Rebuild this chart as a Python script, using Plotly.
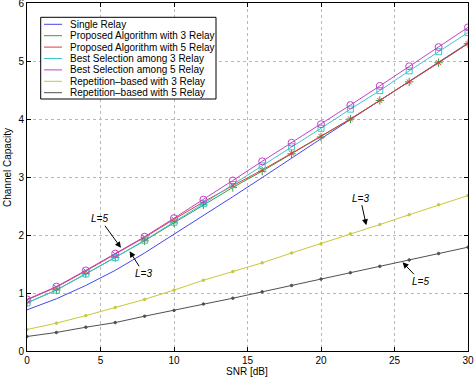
import plotly.graph_objects as go

snr = [0, 2, 4, 6, 8, 10, 12, 14, 16, 18, 20, 22, 24, 26, 28, 30]

single_relay = [0.71, 0.90, 1.13, 1.39, 1.69, 2.01, 2.33, 2.66, 2.99, 3.33, 3.66, 3.99, 4.32, 4.65, 4.98, 5.31]
proposed_3 = [0.83, 1.05, 1.33, 1.61, 1.90, 2.21, 2.52, 2.82, 3.10, 3.40, 3.69, 4.00, 4.32, 4.64, 4.97, 5.30]
proposed_5 = [0.88, 1.10, 1.38, 1.67, 1.96, 2.27, 2.57, 2.85, 3.12, 3.41, 3.70, 4.00, 4.32, 4.64, 4.97, 5.30]
best_3 = [0.83, 1.05, 1.33, 1.61, 1.91, 2.22, 2.54, 2.87, 3.19, 3.52, 3.84, 4.17, 4.49, 4.83, 5.16, 5.49]
best_5 = [0.89, 1.11, 1.39, 1.68, 1.97, 2.29, 2.61, 2.94, 3.27, 3.59, 3.91, 4.24, 4.57, 4.91, 5.24, 5.58]
rep_3 = [0.37, 0.48, 0.61, 0.75, 0.89, 1.05, 1.22, 1.37, 1.52, 1.69, 1.85, 2.02, 2.18, 2.35, 2.52, 2.68]
rep_5 = [0.25, 0.32, 0.41, 0.49, 0.60, 0.70, 0.81, 0.91, 1.02, 1.13, 1.24, 1.35, 1.46, 1.57, 1.68, 1.79]

names = ["Single Relay", "Proposed Algorithm with 3 Relay", "Proposed Algorithm with 5 Relay",
         "Best Selection among 3 Relay", "Best Selection among 5 Relay",
         "Repetition\u2013based with 3 Relay", "Repetition\u2013based with 5 Relay"]
series = [single_relay, proposed_3, proposed_5, best_3, best_5, rep_3, rep_5]
colors = ["#4646ec", "#3a9a46", "#e23a3a", "#3cc6c6", "#c640c6", "#c8c83a", "#505050"]
symbols = [None, "cross-thin-open", "x-thin-open", "square-open", "circle-open", "circle", "circle"]
msizes = [0, 6, 5, 6, 7, 2.5, 2.5]

x_ticks = [0, 5, 10, 15, 20, 25, 30]
y_ticks = [0, 1, 2, 3, 4, 5, 6]

annots = [  # (text, tip x, tip y, ax, ay)
    ("L=5", 6.39, 1.78, -21, -29),
    ("L=3", 6.98, 1.72, 14, 22),
    ("L=3", 23.08, 2.17, -6, -27),
    ("L=5", 25.55, 1.53, 18, 19),
]

fig = go.Figure()
for name, ys, c, sym, ms in zip(names, series, colors, symbols, msizes):
    if sym is None:
        fig.add_trace(go.Scatter(x=snr, y=ys, mode="lines", name=name,
                                 line=dict(color=c, width=1), showlegend=False))
    else:
        fig.add_trace(go.Scatter(x=snr, y=ys, mode="lines+markers", name=name,
                                 line=dict(color=c, width=1),
                                 marker=dict(symbol=sym, size=ms, color=c,
                                             line=dict(color=c, width=1)),
                                 showlegend=False))

# custom compact legend (paper coordinates via overlay axes)
L, R, T, B = 27, 468, 3, 351
W, H = R - L, B - T
def px(xp):
    return (xp - L) / W
def py(yp):
    return (B - yp) / H

box = (40.7, 17.3, 216, 99)
fig.add_shape(type="rect", xref="paper", yref="paper",
              x0=px(box[0]), x1=px(box[2]), y0=py(box[3]), y1=py(box[1]),
              line=dict(color="black", width=1), fillcolor="white", layer="above")
row0, step = 24.3, 11.4
mx, my, msym, mcol, msz = [], [], [], [], []
for i, (name, c, sym, ms) in enumerate(zip(names, colors, symbols, msizes)):
    yy = py(row0 + i * step)
    fig.add_shape(type="line", xref="paper", yref="paper",
                  x0=px(44), x1=px(62), y0=yy, y1=yy,
                  line=dict(color=c, width=1), layer="above")
    fig.add_annotation(xref="paper", yref="paper", x=px(67.5), y=yy, text=name,
                       showarrow=False, xanchor="left", yanchor="middle",
                       font=dict(size=10, color="black"))
    if sym is not None:
        mx.append(px(53)); my.append(yy); msym.append(sym); mcol.append(c); msz.append(ms)

fig.add_trace(go.Scatter(x=mx, y=my, mode="markers", xaxis="x2", yaxis="y2",
                         marker=dict(symbol=msym, size=msz, color=mcol,
                                     line=dict(color=mcol, width=1)),
                         showlegend=False, hoverinfo="skip"))

for text, tx, ty, ax, ay in annots:
    fig.add_annotation(x=tx, y=ty, text="<i>" + text + "</i>", showarrow=True,
                       ax=ax, ay=ay, arrowhead=2, arrowsize=1.2, arrowwidth=1,
                       arrowcolor="black", font=dict(size=10, color="black"))

# axis titles
fig.add_annotation(xref="paper", yref="paper", x=px(247), y=py(371), text="SNR [dB]",
                   showarrow=False, xanchor="center", yanchor="middle",
                   font=dict(size=10, color="black"))
fig.add_annotation(xref="paper", yref="paper", x=px(7), y=py(168), text="Channel Capacity",
                   showarrow=False, textangle=-90, xanchor="center", yanchor="middle",
                   font=dict(size=10, color="black"))

axis_common = dict(showline=True, linecolor="black", linewidth=1, mirror="allticks",
                   ticks="inside", ticklen=4, tickcolor="black", automargin=False,
                   showgrid=True, gridcolor="#b8b8b8", griddash="dot", gridwidth=1,
                   zeroline=False, tickfont=dict(size=10, color="black"),
                   ticklabeloverflow="allow")

fig.update_layout(
    width=474, height=384,
    margin=dict(l=L, r=474 - R, t=T, b=384 - B),
    paper_bgcolor="white", plot_bgcolor="white",
    font=dict(family="Liberation Sans, Arial, sans-serif", size=10, color="black"),
    xaxis=dict(range=[0, 30], tickvals=x_ticks, ticktext=[str(v) for v in x_ticks],
               **axis_common),
    yaxis=dict(range=[0, 6], tickvals=y_ticks, ticktext=[str(v) for v in y_ticks],
               **axis_common),
    xaxis2=dict(range=[0, 1], overlaying="x", visible=False, anchor="y2"),
    yaxis2=dict(range=[0, 1], overlaying="y", visible=False, anchor="x2"),
    showlegend=False,
)

fig.write_html("out.html", config={"displayModeBar": False},
               post_script="document.body.style.margin='0';document.body.style.overflow='hidden';")
